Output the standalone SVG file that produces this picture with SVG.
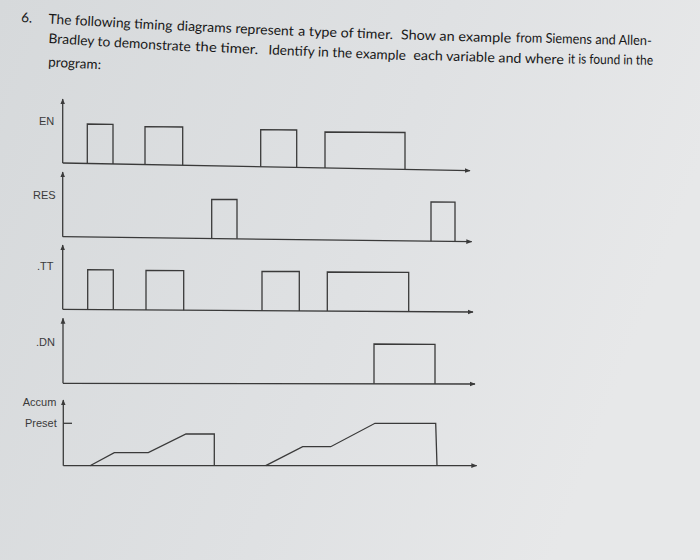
<svg xmlns="http://www.w3.org/2000/svg" width="700" height="560" viewBox="0 0 700 560">
  <defs>
    <linearGradient id="bg" x1="0" y1="0" x2="1" y2="0.3">
      <stop offset="0" stop-color="#d6d9db"/>
      <stop offset="0.6" stop-color="#dfe1e3"/>
      <stop offset="1" stop-color="#e7e8e9"/>
    </linearGradient>
    <marker id="arr" viewBox="0 0 10 10" refX="9" refY="5" markerWidth="6" markerHeight="6" markerUnits="userSpaceOnUse" orient="auto">
      <path d="M0,1 L10,5 L0,9 Z" fill="#3a3a3a"/>
    </marker>
  </defs>
  <style>
    .title { font-family: Lato, "Liberation Sans", sans-serif; font-size: 13.5px; fill: #181818; }
    .lab { font-family: "Liberation Sans", Arial, sans-serif; font-size: 11px; fill: #3a3a3a; }
    .ax { fill: none; stroke: #3a3a3a; stroke-width: 1.3; }
    .sig { fill: none; stroke: #3a3a3a; stroke-width: 1.3; stroke-linejoin: miter; }
  </style>
  <rect width="700" height="560" fill="url(#bg)"/>

  <g id="question">
    <text class="title" x="21" y="22" transform="rotate(3 21 22)">6.</text>
    <text class="title" x="48.3" y="23.5" transform="rotate(3.2 48.3 23.5)" textLength="124" lengthAdjust="spacingAndGlyphs">The following timing</text>
    <text class="title" x="176.7" y="30.3" transform="rotate(2.7 176.7 30.3)" textLength="117" lengthAdjust="spacingAndGlyphs">diagrams represent</text>
    <text class="title" x="298" y="35.6" transform="rotate(2.2 298 35.6)" textLength="95" lengthAdjust="spacingAndGlyphs">a type of timer.</text>
    <text class="title" x="400.7" y="39.2" transform="rotate(1.8 400.7 39.2)" textLength="110.5" lengthAdjust="spacingAndGlyphs">Show an example</text>
    <text class="title" x="515.7" y="42.2" transform="rotate(1.3 515.7 42.2)" textLength="136" lengthAdjust="spacingAndGlyphs">from Siemens and Allen-</text>
    <text class="title" x="48.3" y="43" transform="rotate(3.4 48.3 43)" textLength="142.5" lengthAdjust="spacingAndGlyphs">Bradley to demonstrate</text>
    <text class="title" x="195" y="51" transform="rotate(2.8 195 51)" textLength="63" lengthAdjust="spacingAndGlyphs">the timer.</text>
    <text class="title" x="268.3" y="54.4" transform="rotate(2.4 268.3 54.4)" textLength="137.5" lengthAdjust="spacingAndGlyphs">Identify in the example</text>
    <text class="title" x="413.3" y="59.7" transform="rotate(1.7 413.3 59.7)" textLength="150.5" lengthAdjust="spacingAndGlyphs">each variable and where</text>
    <text class="title" x="568" y="63.4" transform="rotate(1 568 63.4)" textLength="85" lengthAdjust="spacingAndGlyphs">it is found in the</text>
    <text class="title" x="48" y="66.5" transform="rotate(3 48 66.5)">program:</text>
  </g>

  <g id="connectors">
    <path class="ax" d="M62.7,163 L62.7,99" marker-end="url(#arr)"/>
    <path class="ax" d="M62.7,163 L470,170.7" marker-end="url(#arr)"/>
    <path class="ax" d="M62.7,236.7 L62.7,172" marker-end="url(#arr)"/>
    <path class="ax" d="M62.7,236.7 L471.7,241.7" marker-end="url(#arr)"/>
    <path class="ax" d="M62.7,309.3 L62.7,245" marker-end="url(#arr)"/>
    <path class="ax" d="M62.7,309.3 L473,312" marker-end="url(#arr)"/>
    <path class="ax" d="M63,383.3 L63,318.3" marker-end="url(#arr)"/>
    <path class="ax" d="M63,383.3 L475,384" marker-end="url(#arr)"/>
    <path class="ax" d="M63.3,465.7 L63.3,400" marker-end="url(#arr)"/>
    <path class="ax" d="M63.3,465.7 L476.7,465.7" marker-end="url(#arr)"/>
    <path class="ax" d="M63.3,423.3 L72,423.3"/>
  </g>

  <g id="EN">
    <text class="lab" x="39" y="125">EN</text>
    <polyline class="sig" points="87.3,163.5 87.3,124 113,124.3 113,164"/>
    <polyline class="sig" points="145,164.6 145,126.7 182.7,127 182.7,165.3"/>
    <polyline class="sig" points="260.7,166.7 260.7,129.7 296.7,130 296.7,167.4"/>
    <polyline class="sig" points="325,168 325,132 405,132.5 405,169.5"/>
  </g>

  <g id="RES">
    <text class="lab" x="33" y="198.5">RES</text>
    <polyline class="sig" points="211.7,238.5 211.7,199.3 237,199.5 237,238.8"/>
    <polyline class="sig" points="431,241.2 431,202 455,202.2 455,241.5"/>
  </g>

  <g id="TT">
    <text class="lab" x="37" y="269.5">.TT</text>
    <polyline class="sig" points="87.7,309.5 87.7,269.7 113.3,269.9 113.3,309.6"/>
    <polyline class="sig" points="146,309.9 146,270.3 183.7,270.6 183.7,310.2"/>
    <polyline class="sig" points="262,310.7 262,271.3 299.3,271.5 299.3,311"/>
    <polyline class="sig" points="327.3,311.1 327.3,272 408.7,272.4 408.7,311.6"/>
  </g>

  <g id="DN">
    <text class="lab" x="36" y="345.7">.DN</text>
    <polyline class="sig" points="374,383.8 374,344 435,344.3 435,384"/>
  </g>

  <g id="Accum">
    <text class="lab" x="22.7" y="405.7">Accum</text>
    <text class="lab" x="25" y="426.7">Preset</text>
    <polyline class="sig" points="90,465.7 114.3,452.7 148.3,452.7 186,434 214.3,434 214.3,465.7"/>
    <polyline class="sig" points="265.7,465.7 302.7,446.7 330.7,446.7 375,423.3 435.7,423.3 437,465.7"/>
  </g>
</svg>
